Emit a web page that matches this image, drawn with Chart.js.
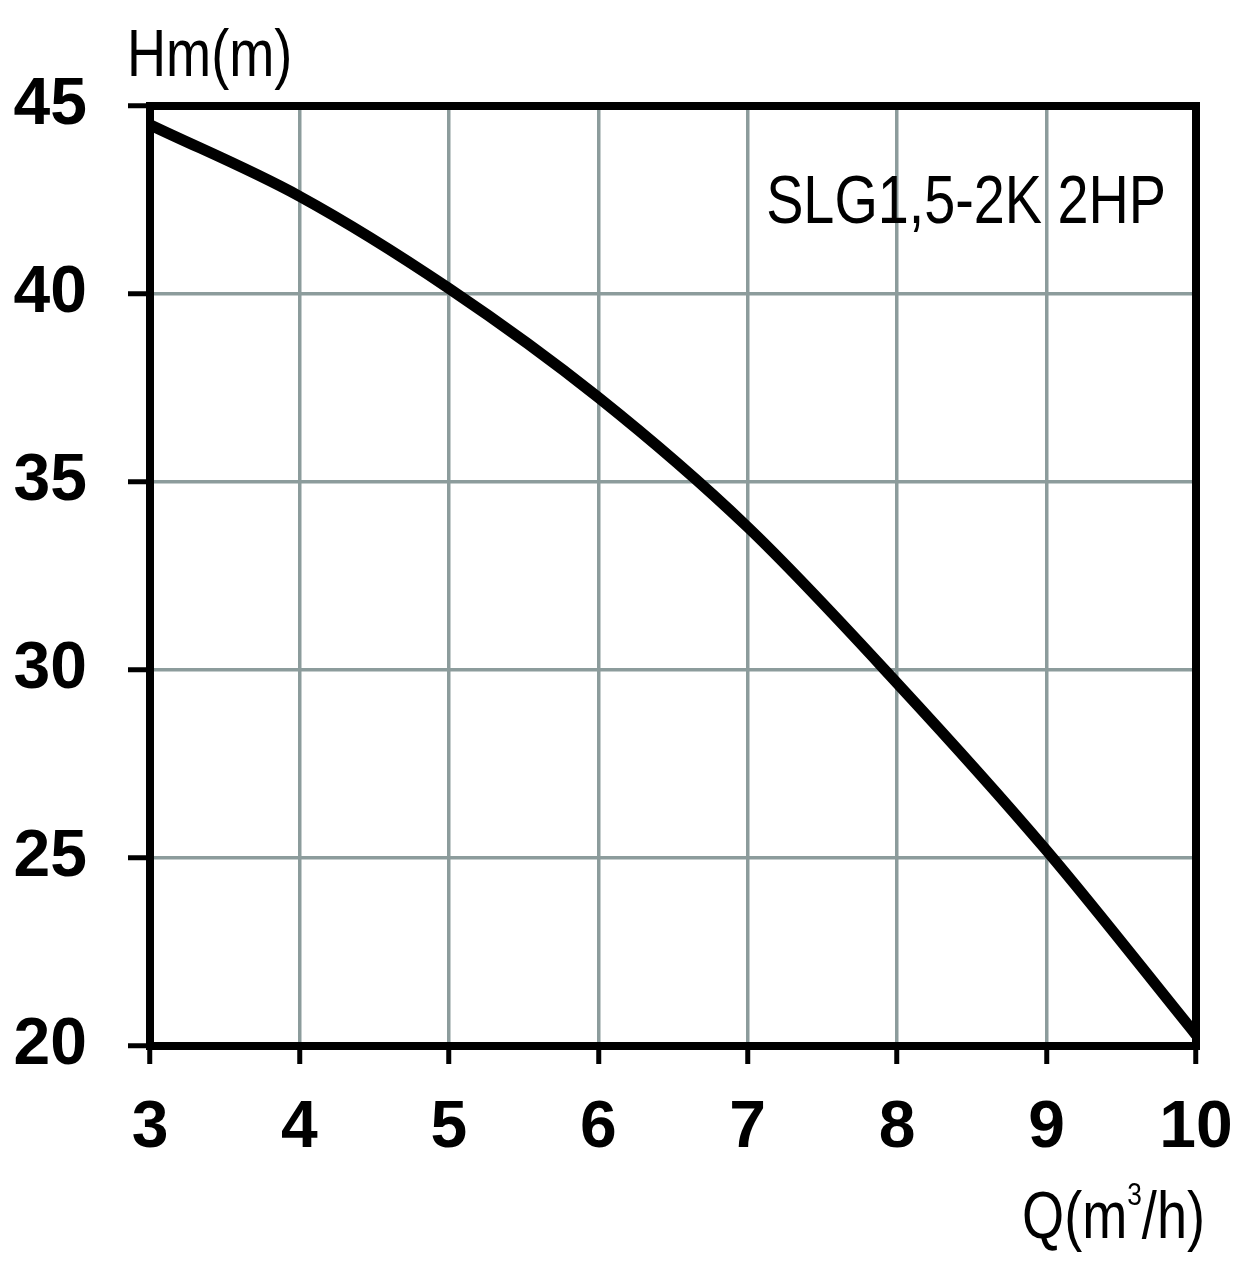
<!DOCTYPE html>
<html>
<head>
<meta charset="utf-8">
<script src="https://cdn.jsdelivr.net/npm/chart.js@4.4.1/dist/chart.umd.min.js"></script>
<style>
  html, body { margin: 0; padding: 0; background: #fff; }
  #wrap { width: 1243px; height: 1280px; }
</style>
</head>
<body>
<div id="wrap"><canvas id="pump"></canvas></div>
<script>
// Q (m3/h) vs head Hm (m)
const flow = [3, 4, 5, 6, 7, 8, 9, 10];
const head = [44.5, 42.6, 40.15, 37.25, 33.8, 29.65, 25.2, 20.3];

const xTicks = [3, 4, 5, 6, 7, 8, 9, 10];
const yTicks = [20, 25, 30, 35, 40, 45];

const FONT = "'Liberation Sans Narrow', 'Arial Narrow', 'Liberation Sans', sans-serif";
const GRID = 'rgb(140,156,156)';
const SQUEEZE = 0.82;

// squeeze a text horizontally, the original uses a narrow face
function narrowText(ctx, txt, x, y, align) {
  const w = ctx.measureText(txt).width * SQUEEZE;
  let left = x;
  if (align === 'right') left = x - w;
  ctx.save();
  ctx.translate(left, y);
  ctx.scale(SQUEEZE, 1);
  ctx.textAlign = 'left';
  ctx.fillText(txt, 0, 0);
  ctx.restore();
  return w;
}

// Q(m3/h) with a raised 3
function unitLabel(ctx, right, base) {
  const big = '66px ' + FONT, small = '32px ' + FONT;
  ctx.font = big;
  const w1 = ctx.measureText('Q(m').width * SQUEEZE;
  const w3 = ctx.measureText('/h)').width * SQUEEZE;
  ctx.font = small;
  const w2 = ctx.measureText('3').width * SQUEEZE;
  let x = right - (w1 + w2 + w3);
  ctx.font = big;
  x += narrowText(ctx, 'Q(m', x, base, 'left');
  ctx.font = small;
  x += narrowText(ctx, '3', x, base - 33, 'left');
  ctx.font = big;
  narrowText(ctx, '/h)', x, base, 'left');
}

// thick black frame + free text labels
const framePlugin = {
  id: 'frame',
  afterDatasetsDraw(chart) {
    const { ctx, chartArea: a } = chart;
    ctx.save();
    ctx.strokeStyle = '#000';
    ctx.lineWidth = 8;
    ctx.strokeRect(a.left, a.top, a.right - a.left, a.bottom - a.top);
    ctx.restore();
  },
  afterDraw(chart) {
    const { ctx } = chart;
    ctx.save();
    ctx.fillStyle = '#000';
    ctx.textBaseline = 'alphabetic';
    ctx.font = '66px ' + FONT;
    narrowText(ctx, 'Hm(m)', 127, 76, 'left');
    unitLabel(ctx, 1205, 1238);
    ctx.font = '68px ' + FONT;
    narrowText(ctx, 'SLG1,5-2K 2HP', 1166, 223, 'right');
    ctx.restore();
  }
};

new Chart(document.getElementById('pump'), {
  type: 'line',
  data: {
    datasets: [{
      label: 'SLG1,5-2K 2HP',
      data: flow.map((q, i) => ({ x: q, y: head[i] })),
      borderColor: '#000',
      borderWidth: 11,
      pointRadius: 0,
      fill: false,
      cubicInterpolationMode: 'monotone'
    }]
  },
  options: {
    responsive: true,
    maintainAspectRatio: false,
    animation: false,
    devicePixelRatio: 1,
    layout: { padding: { top: 106, right: 47, bottom: 0, left: 0 } },
    plugins: {
      legend: { display: false },
      tooltip: { enabled: false }
    },
    scales: {
      x: {
        type: 'linear',
        min: 3,
        max: 10,
        afterBuildTicks(scale) { scale.ticks = xTicks.map(v => ({ value: v })); },
        afterFit(scale) {
          scale.height = 234;
          scale.paddingLeft = 0;
          scale.paddingRight = 0;
        },
        grid: { color: GRID, lineWidth: 3.5, tickLength: 18, tickWidth: 5, tickColor: '#000' },
        border: { display: false },
        ticks: {
          color: '#000',
          padding: 25,
          font: { family: FONT, size: 66, weight: 'bold' }
        }
      },
      y: {
        min: 20,
        max: 45,
        afterBuildTicks(scale) { scale.ticks = yTicks.map(v => ({ value: v })); },
        afterFit(scale) {
          scale.width = 150;
          scale.paddingTop = 0;
          scale.paddingBottom = 0;
        },
        grid: { color: GRID, lineWidth: 3.5, tickLength: 22, tickWidth: 5, tickColor: '#000' },
        border: { display: false },
        ticks: {
          color: '#000',
          padding: 41,
          font: { family: FONT, size: 66, weight: 'bold' }
        }
      }
    }
  },
  plugins: [framePlugin]
});
</script>
</body>
</html>
